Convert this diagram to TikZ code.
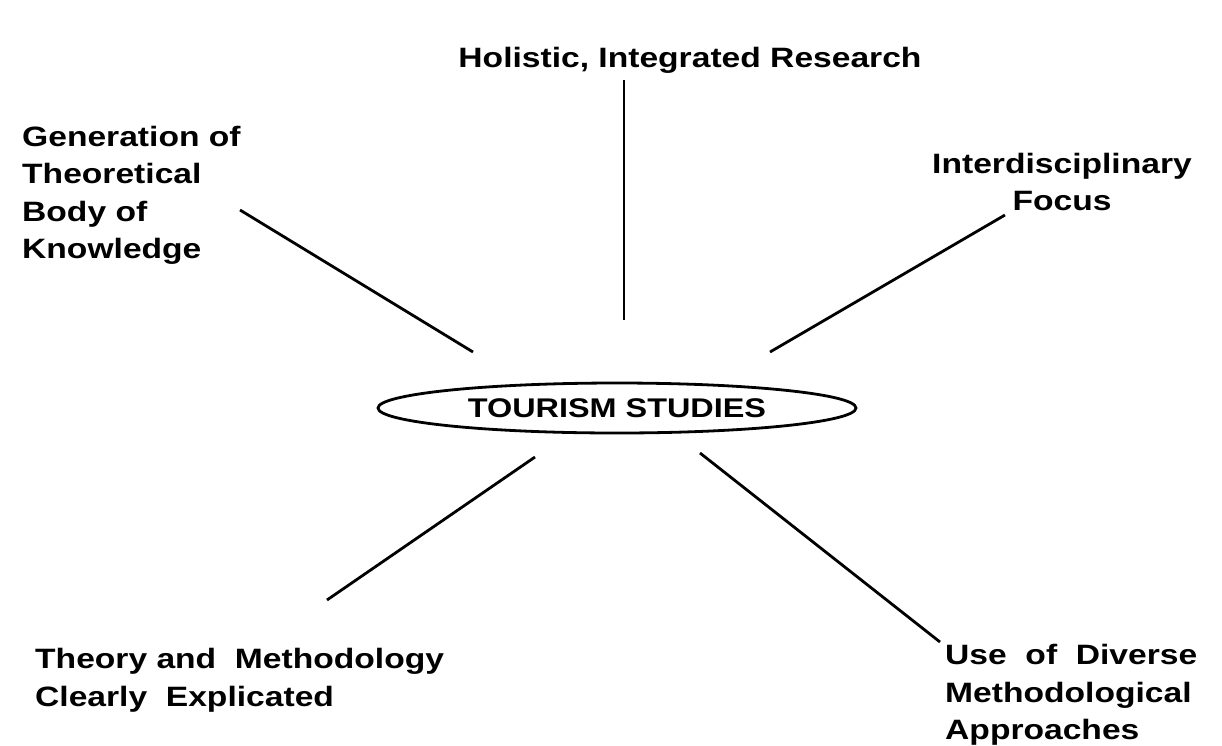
\documentclass[tikz,border=0pt]{standalone}
\usepackage{fontspec}
\setmainfont[FakeStretch=1.2]{Liberation Sans}
\usetikzlibrary{shapes.geometric}
\begin{document}
\begin{tikzpicture}[x=1pt,y=-1pt,
  lbl/.style={font=\bfseries\fontsize{28}{37.5}\selectfont,inner sep=0pt},
  ln/.style={line width=2.8pt}]
\useasboundingbox (0,0) rectangle (1222,745);
\node[ellipse,draw,line width=2.8pt,minimum width=478pt,minimum height=50pt,inner sep=0pt,
  font=\bfseries\fontsize{27}{30}\selectfont] (c) at (617,408) {TOURISM STUDIES};
\node[lbl] (t) at (690,60) {Holistic, Integrated Research};
\node[lbl,align=left,anchor=north west] (gl) at (22,126) {Generation of\\Theoretical\\Body of\\Knowledge};
\node[lbl,align=center] (ir) at (1062,182) {Interdisciplinary\\Focus};
\node[lbl,align=left,anchor=west] (tm) at (35,680) {Theory and\ \ Methodology\\Clearly\ \ Explicated};
\node[lbl,align=left,anchor=west] (ud) at (945,695) {Use\ \ of\ \ Diverse\\Methodological\\Approaches};
\coordinate (a1) at (624,80); \coordinate (a2) at (624,320);
\coordinate (b1) at (240,210); \coordinate (b2) at (473,352);
\coordinate (c1) at (1005,215); \coordinate (c2) at (770,352);
\coordinate (d1) at (535,457); \coordinate (d2) at (327,600);
\coordinate (e1) at (700,453); \coordinate (e2) at (940,642);
\draw[ln] (a1)--(a2); \draw[ln] (b1)--(b2); \draw[ln] (c1)--(c2);
\draw[ln] (d1)--(d2); \draw[ln] (e1)--(e2);
\end{tikzpicture}
\end{document}
